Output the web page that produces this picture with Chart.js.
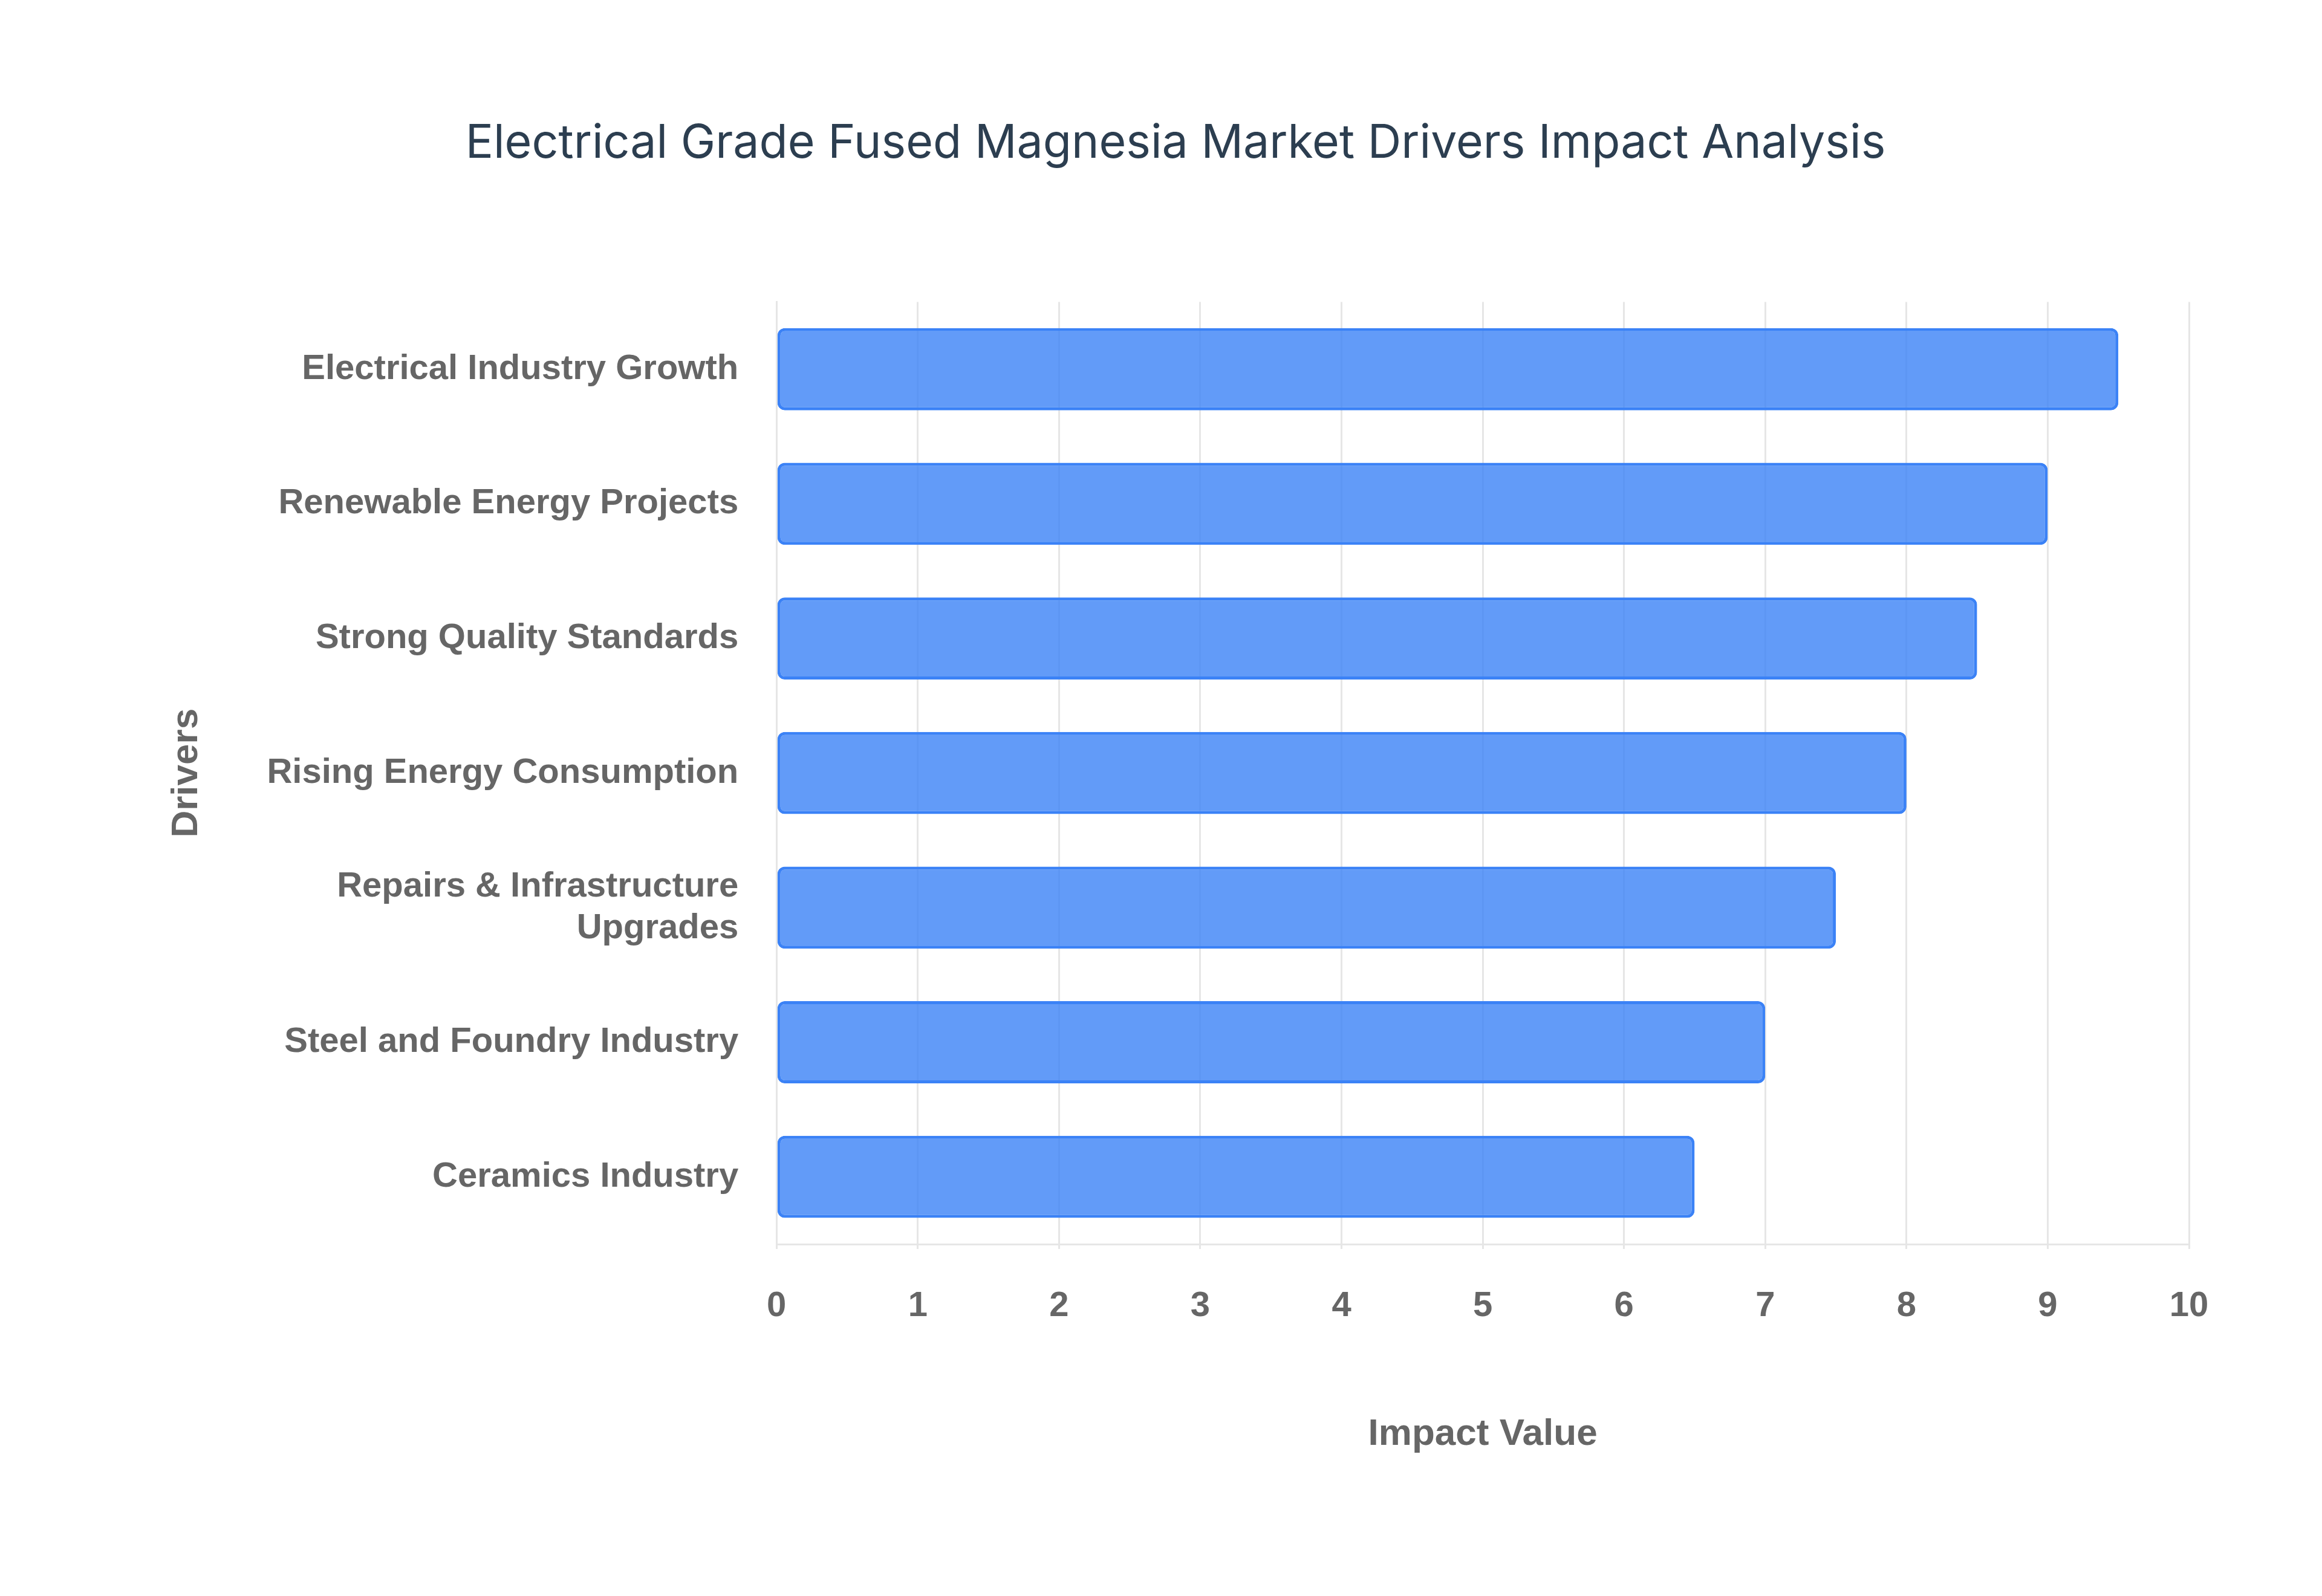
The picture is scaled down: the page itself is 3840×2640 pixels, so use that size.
<!DOCTYPE html>
<html>
<head>
<meta charset="utf-8">
<script src="https://cdn.jsdelivr.net/npm/chart.js@4"></script>
<style>
  html, body { margin: 0; padding: 0; background: #fff; }
  #wrap { width: 3840px; height: 2640px; }
</style>
</head>
<body>
<div id="wrap"><canvas id="myChart"></canvas></div>
<script>
// drivers (categories)
const drivers = [
  'Electrical Industry Growth',
  'Renewable Energy Projects',
  'Strong Quality Standards',
  'Rising Energy Consumption',
  ['Repairs & Infrastructure', 'Upgrades'],
  'Steel and Foundry Industry',
  'Ceramics Industry'
]
// impact values
const impactValues = [9.5, 9, 8.5, 8, 7.5, 7, 6.5]

const labelFont = { family: 'Liberation Sans, Arial, sans-serif', size: 58, weight: 'bold' }

new Chart('myChart', {
  type: 'bar',
  data: {
    labels: drivers,
    datasets: [{
      data: impactValues,
      backgroundColor: 'rgba(59,130,246,0.8)',
      borderColor: '#3b82f6',
      borderWidth: 5,
      borderRadius: 12,
      borderSkipped: false,
      categoryPercentage: 0.61,
      barPercentage: 1
    }]
  },
  options: {
    indexAxis: 'y',
    responsive: true,
    maintainAspectRatio: false,
    devicePixelRatio: 1,
    animation: false,
    layout: { padding: { top: 192, left: 268, right: 220, bottom: 226 } },
    plugins: {
      legend: { display: false },
      tooltip: { enabled: false },
      title: {
        display: true,
        text: 'Electrical Grade Fused Magnesia Market Drivers Impact Analysis',
        color: '#2c3e50',
        font: { family: 'Inter, sans-serif', size: 77, weight: 'normal' },
        padding: { bottom: 215 }
      }
    },
    scales: {
      x: {
        min: 0,
        max: 10,
        ticks: { stepSize: 1, color: '#666', font: labelFont, padding: 60 },
        grid: { color: '#e6e6e6', lineWidth: 3 },
        border: { color: '#e6e6e6', width: 3 },
        title: { display: true, text: 'Impact Value', color: '#666', font: { ...labelFont, size: 62 }, padding: { top: 80 } }
      },
      y: {
        ticks: { color: '#666', font: labelFont, padding: 55 },
        grid: { display: false },
        border: { color: '#e6e6e6', width: 3 },
        title: { display: true, text: 'Drivers', color: '#666', font: { ...labelFont, size: 62 }, padding: { bottom: 40 } }
      }
    }
  }
})
</script>
</body>
</html>
